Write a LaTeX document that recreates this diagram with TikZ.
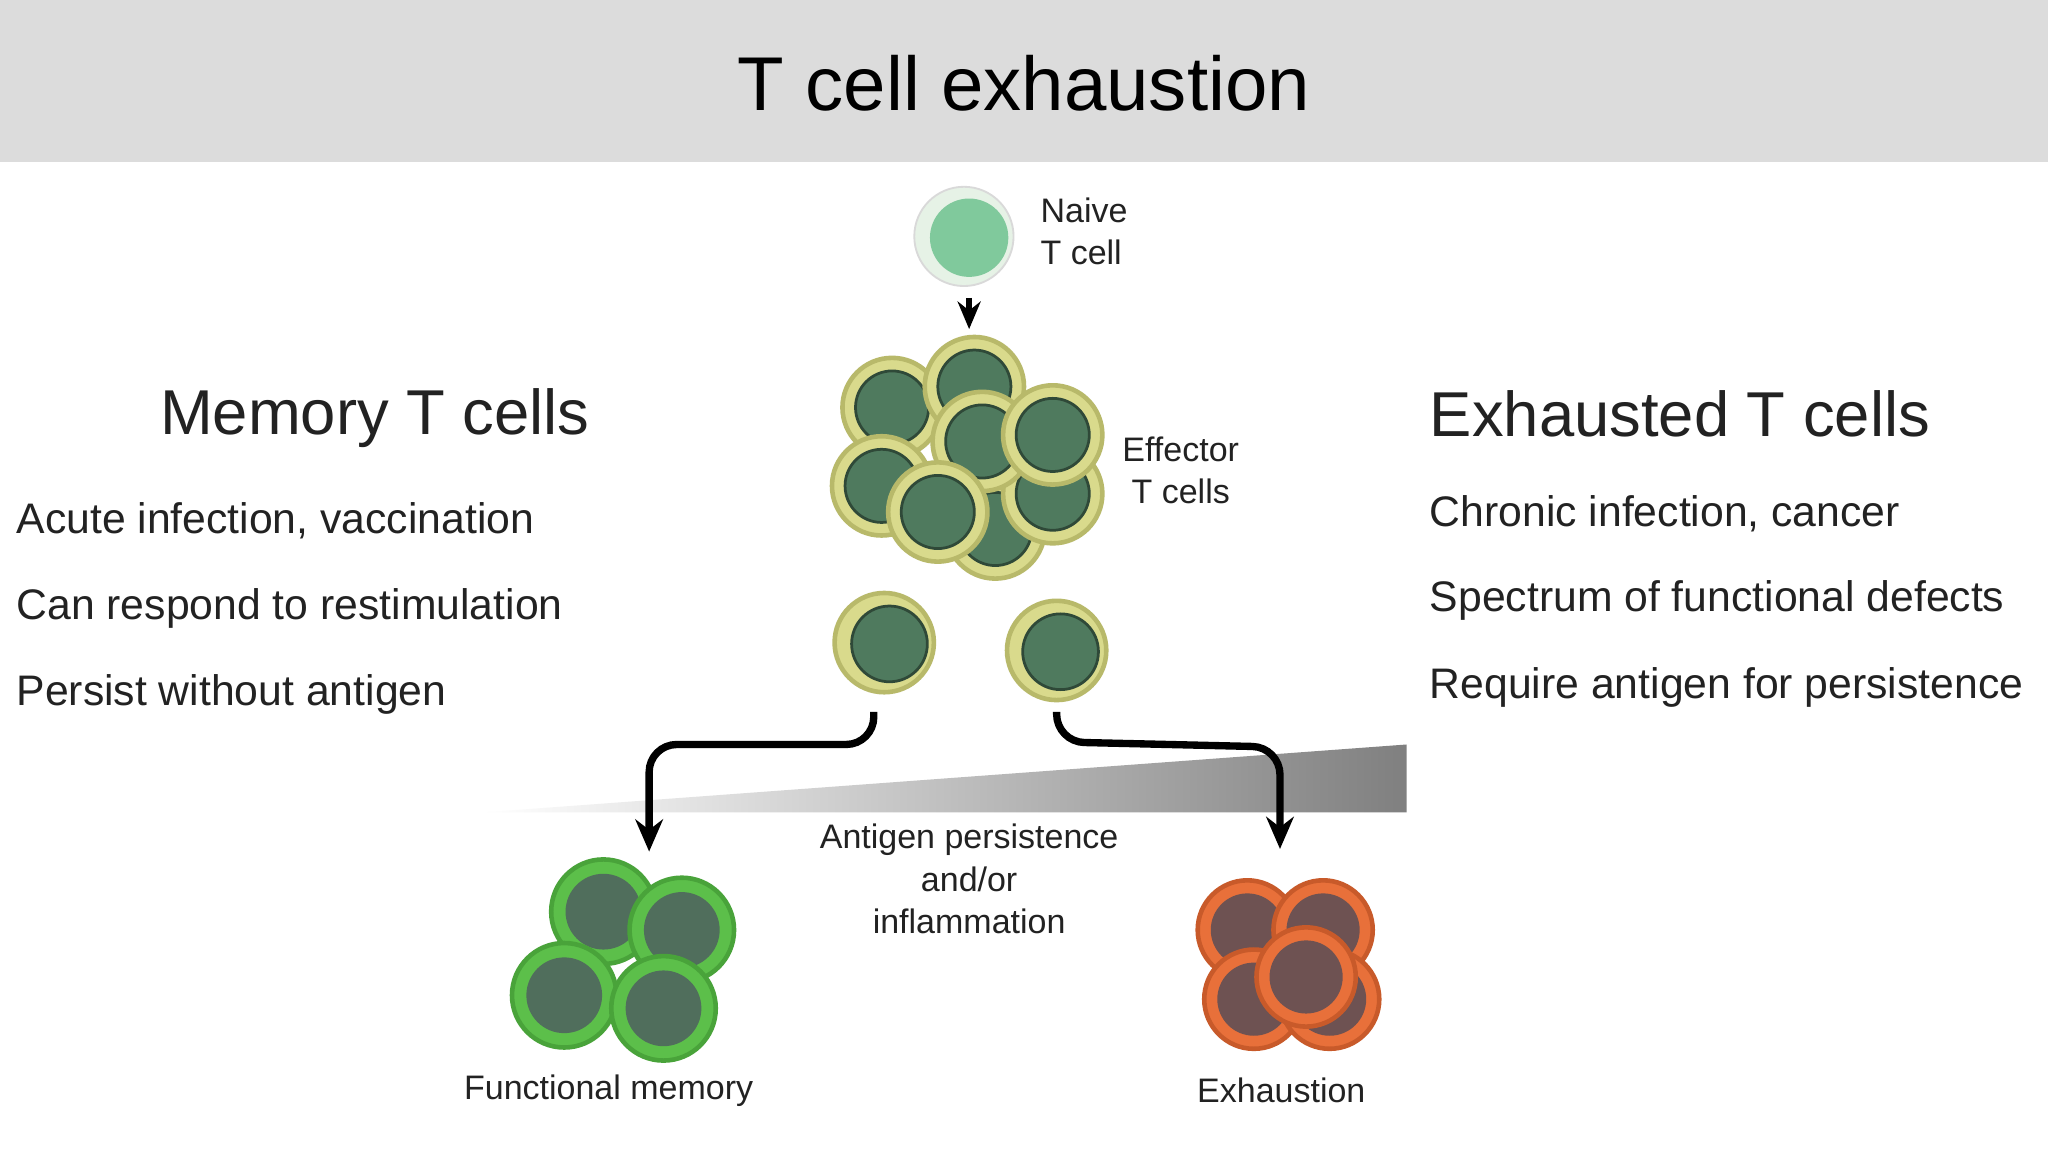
\documentclass[tikz,border=0pt]{standalone}
\usepackage{fontspec}
\setmainfont{Liberation Sans}
\usetikzlibrary{arrows.meta}
\definecolor{hdr}{HTML}{DCDCDC}
\definecolor{yel}{HTML}{D9DA8C}
\definecolor{yeledge}{HTML}{B8B96A}
\definecolor{dgreen}{HTML}{4F7A5E}
\definecolor{mgreen}{HTML}{5CBF4A}
\definecolor{mgedge}{HTML}{49A33A}
\definecolor{minner}{HTML}{506E5C}
\definecolor{orng}{HTML}{E8703A}
\definecolor{oedge}{HTML}{C85A2A}
\definecolor{oinner}{HTML}{6E5252}
\definecolor{naivein}{HTML}{80C99C}
\definecolor{naiveout}{HTML}{E6F2E6}
\definecolor{txt}{HTML}{222222}
\tikzset{
 conn/.style={line width=1.6pt, rounded corners=6pt, -{Stealth[length=7pt,width=6pt]}},
 eff/.style={fill=yel, draw=yeledge, line width=1pt},
 effin/.style={fill=dgreen, draw=black!40!dgreen, line width=0.6pt},
 mem/.style={fill=mgreen, draw=mgedge, line width=1pt},
 memin/.style={fill=minner},
 exh/.style={fill=orng, draw=oedge, line width=1pt},
 exhin/.style={fill=oinner},
 body/.style={font=\fontsize{9.3pt}{11pt}\selectfont, text=txt, anchor=west, inner sep=0},
 lab/.style={font=\fontsize{7.4pt}{9.2pt}\selectfont, text=txt, align=center, inner sep=0}
}
\begin{document}
\begin{tikzpicture}[x=0.01cm,y=-0.01cm]
\useasboundingbox (0,0) rectangle (1568,882);
\fill[white] (0,0) rectangle (1568,882);
\fill[hdr] (0,0) rectangle (1568,124);
\node[font=\fontsize{16.6pt}{20pt}\selectfont, text=black] (title) at (784,64) {T cell exhaustion};
% wedge
\shade[left color=white, right color=black!50] (370,622) -- (1077,570) -- (1077,622) -- cycle;
% naive
\fill[naiveout, draw=black!15] (738,181) circle (38);
\fill[naivein] (742,182) circle (30);
\node[lab, align=left, anchor=west] (naive) at (796,177) {Naive\\T cell};
\coordinate (na1) at (742,228); \coordinate (na2) at (742,252);
\draw[line width=1.4pt, -{Stealth[length=6pt,width=5pt]}] (na1) -- (na2);
% effector cluster
\foreach \x/\y in {683/312,746/296,762/405,675/372,806/378,752/338,718/392,806/333}{
 \draw[eff] (\x,\y) circle (38);
 \draw[effin] (\x,\y) circle (28);
}
\node[lab, align=center] (effl) at (904,360) {Effector\\T cells};
\draw[eff] (677,492) circle (38); \draw[effin] (681,493) circle (29);
\draw[eff] (809,498) circle (38); \draw[effin] (812,499) circle (29);
\coordinate (e1) at (669,545); \coordinate (e2) at (809,545);
\coordinate (m) at (497,652); \coordinate (x) at (980,650);
\draw[conn] (e1) -- (669,570) -- (497,570) -- (m);
\draw[conn] (e2) -- (809,568) -- (980,572) -- (x);
% memory
\foreach \x/\y in {462/698,522/712,432/762,508/772}{
 \draw[mem] (\x,\y) circle (40);
 \fill[memin] (\x,\y) circle (29);
}
\node[lab] (fm) at (466,835) {Functional memory};
% exhausted
\foreach \x/\y in {955/712,1013/712,960/765,1018/765,1000/748}{
 \draw[exh] (\x,\y) circle (38);
 \fill[exhin] (\x,\y) circle (28);
}
\node[lab] (ex) at (981,835) {Exhaustion};
\node[lab] (ag) at (742,673) {Antigen persistence\\and/or\\inflammation};
% left text
\node[font=\fontsize{13.8pt}{16pt}\selectfont, text=txt] (mt) at (287,320) {Memory T cells};
\node[body] (l1) at (12,399) {Acute infection, vaccination};
\node[body] (l2) at (12,466) {Can respond to restimulation};
\node[body] (l3) at (12,532) {Persist without antigen};
% right text
\node[font=\fontsize{13.8pt}{16pt}\selectfont, text=txt, anchor=west, inner sep=0] (et) at (1094,317) {Exhausted T cells};
\node[body] (r1) at (1094,393) {Chronic infection, cancer};
\node[body] (r2) at (1094,460) {Spectrum of functional defects};
\node[body] (r3) at (1094,526) {Require antigen for persistence};
\end{tikzpicture}
\end{document}
